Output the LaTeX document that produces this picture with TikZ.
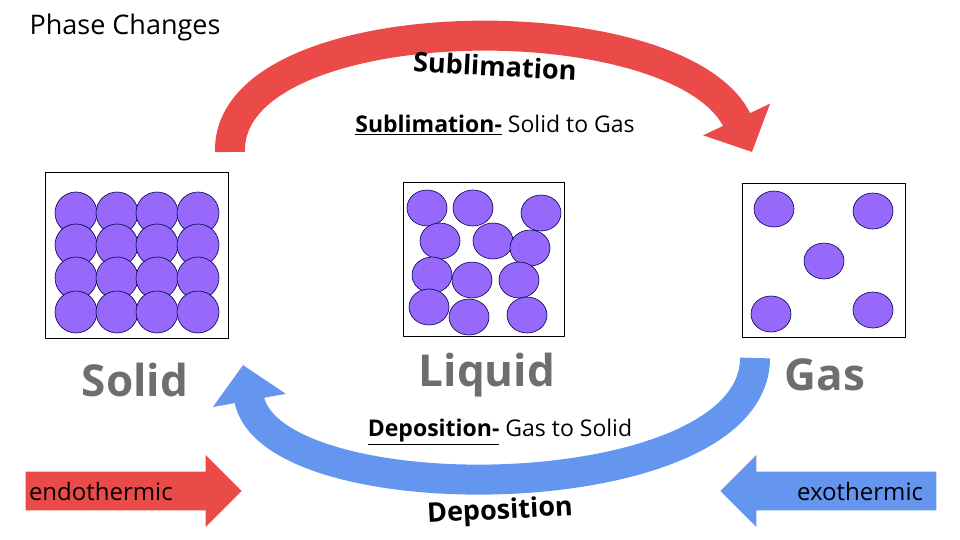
\documentclass[tikz,border=0pt]{standalone}
\usepackage{fontspec}
\setmainfont{Open Sans}
\usetikzlibrary{arrows.meta, shapes.arrows}
\definecolor{partfill}{RGB}{150,105,250}
\definecolor{arcred}{RGB}{235,75,72}
\definecolor{arcblue}{RGB}{100,150,240}
\definecolor{labgray}{RGB}{110,110,110}
\tikzset{
  box/.style={draw=black, line width=0.8pt},
  part/.style={draw=black!70!blue, line width=0.6pt, fill=partfill},
  bigarc/.style={line width=30pt, -{Triangle[length=36pt,width=72pt]}},
  statelab/.style={font=\bfseries\fontsize{44}{44}\selectfont, text=labgray},
  blockarrow/.style={single arrow, minimum height=216pt, minimum width=72pt,
    single arrow head extend=8pt, single arrow tip angle=90, inner sep=0pt, font=\fontsize{24}{24}\selectfont}
}
\begin{document}
\begin{tikzpicture}[x=1pt, y=-1pt]
\useasboundingbox (0,0) rectangle (960,540);

% boxes
\node (solidbox) [box, minimum width=183pt, minimum height=166pt, anchor=north west] at (45,172) {};
\node (liquidbox) [box, minimum width=161pt, minimum height=154pt, anchor=north west] at (403,182) {};
\node (gasbox) [box, minimum width=163pt, minimum height=154pt, anchor=north west] at (742,183) {};

% particles
\foreach \x in {76,117,157,198}
  \foreach \y in {213,245,278,312}
    \draw[part] (\x,\y) ellipse (21 and 21);
\foreach \x/\y in {427/208, 473/208, 541/213, 440/241, 493/241, 530/248,
                   432/275, 472/280, 519/280, 429/307, 469/317, 527/315}
  \draw[part] (\x,\y) ellipse (20 and 18);
\foreach \x/\y in {774/209, 873/211, 824/261, 771/314, 873/310}
  \draw[part] (\x,\y) ellipse (20 and 18);

% arcs
\coordinate (subl_start) at (230,152);
\coordinate (subl_end) at (752,152);
\coordinate (depo_start) at (755,358);
\coordinate (depo_end) at (243,365);
\draw[bigarc, arcred] (subl_start) .. controls (226,5) and (680,0) .. (subl_end);
\draw[bigarc, arcblue] (depo_start) .. controls (755,510) and (270,515) .. (depo_end);

% texts
\node (title) [anchor=north west, font=\fontsize{27}{27}\selectfont] at (26,10) {Phase Changes};
\node (sublword) [font=\bfseries\fontsize{27}{27}\selectfont, rotate=-3] at (495,66) {Sublimation};
\node (subldef) [font=\fontsize{23}{23}\selectfont] at (495,125) {\underline{\textbf{Sublimation-}} Solid to Gas};
\node (depodef) [font=\fontsize{23}{23}\selectfont] at (500,432) {\underline{\textbf{Deposition-}} Gas to Solid};
\node (depoword) [font=\bfseries\fontsize{27}{27}\selectfont, rotate=3] at (500,512) {Deposition};
\node (solidlab) [statelab] at (135,380) {Solid};
\node (liquidlab) [statelab] at (487,375) {Liquid};
\node (gaslab) [statelab] at (825,375) {Gas};

% heat arrows
\node (endo) [blockarrow, fill=arcred, text width=190pt, align=left] at (124,491) {endothermic};
\node (exo) [blockarrow, fill=arcblue, shape border rotate=180, text width=170pt, align=right] at (838,491) {exothermic};
\end{tikzpicture}
\end{document}
